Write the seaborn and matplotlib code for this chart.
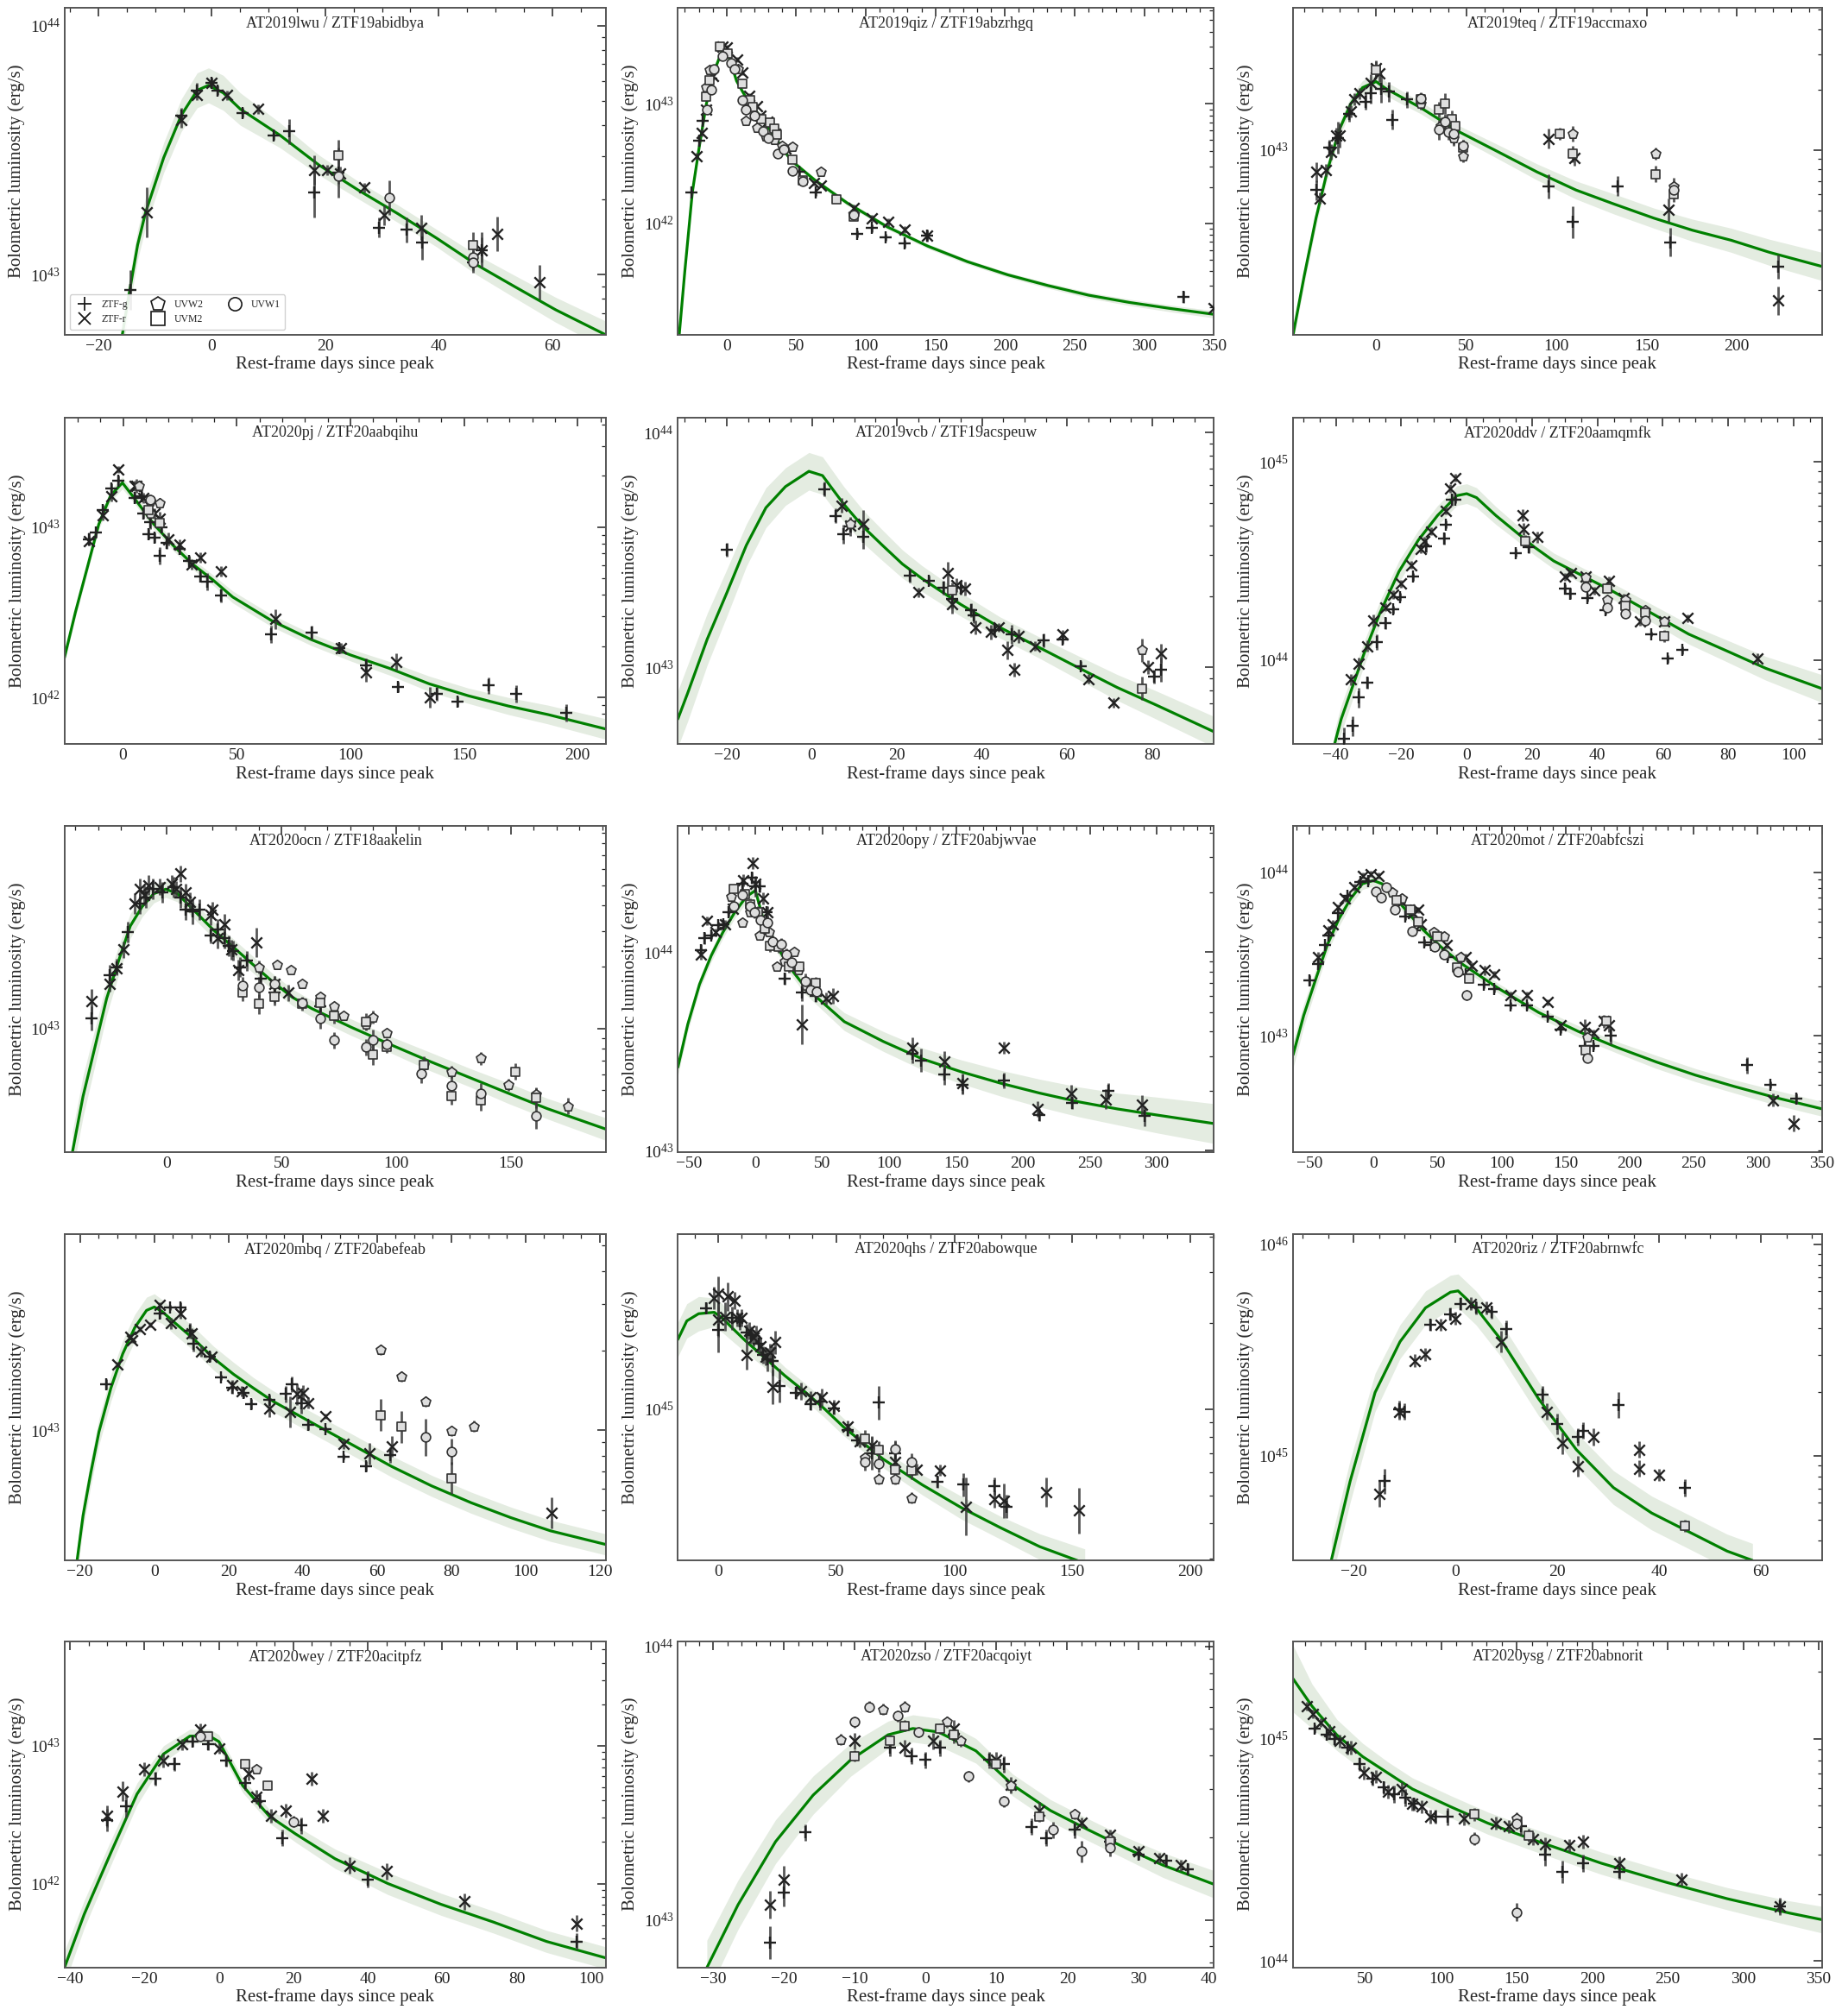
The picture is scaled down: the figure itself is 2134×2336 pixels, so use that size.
import numpy as np
import matplotlib
matplotlib.use("Agg")
import matplotlib.pyplot as plt
from matplotlib.ticker import MultipleLocator, AutoMinorLocator, LogLocator, NullFormatter, LogFormatterSciNotation
from matplotlib.lines import Line2D
import seaborn as sns

# ------------------------------------------------------------------ data
# model curves: (rest-frame days, log10 L) knots, band = half width in dex
# photometry: (days, log10 L, error in dex)

# --- AT2019lwu
lwu_title = "AT2019lwu / ZTF19abidbya"
lwu_mt = [-15.8, -14.4, -13.1, -11.7, -8.5, -5.4, -2.6, -0.6, 2, 5, 12, 18.9, 25.8, 32.8, 39.7, 46.7, 53.6, 60.6, 69.4]
lwu_ml = [42.76, 42.95, 43.12, 43.25, 43.47, 43.64, 43.74, 43.76, 43.73, 43.665, 43.56, 43.44, 43.34, 43.245, 43.146, 43.04, 42.95, 42.86, 42.76]
lwu_mb = [0.06, 0.06, 0.06, 0.06, 0.06, 0.065, 0.07, 0.07, 0.07, 0.065, 0.05, 0.04, 0.035, 0.035, 0.035, 0.04, 0.045, 0.05, 0.055]
lwu_g = [(-14.4, 42.94, 0.08), (-5.4, 43.64, 0.03), (-2.6, 43.74, 0.03), (0, 43.77, 0.02), (1, 43.74, 0.02),
         (5.4, 43.65, 0.02), (10.9, 43.56, 0.02), (13.6, 43.575, 0.05), (18, 43.33, 0.1), (22.3, 43.41, 0.1),
         (29.5, 43.19, 0.04), (34.3, 43.18, 0.05), (37, 43.13, 0.07), (46, 43.05, 0.04), (47.5, 43.10, 0.05)]
lwu_r = [(-11.5, 43.25, 0.1), (-5.4, 43.62, 0.03), (-2.6, 43.72, 0.02), (0, 43.77, 0.02), (2.7, 43.72, 0.02),
         (8.1, 43.665, 0.02), (18, 43.42, 0.06), (20.3, 43.42, 0.02), (22.6, 43.405, 0.03), (26.9, 43.35, 0.02),
         (30.3, 43.24, 0.04), (36.9, 43.19, 0.05), (47.5, 43.10, 0.07), (50.3, 43.165, 0.07), (57.8, 42.97, 0.07)]
lwu_w2 = []
lwu_m2 = [(22.3, 43.48, 0.06), (46, 43.12, 0.05)]
lwu_w1 = [(22.3, 43.395, 0.03), (31.3, 43.31, 0.07), (46, 43.07, 0.03), (46, 43.05, 0.03)]

# --- AT2019qiz
qiz_title = "AT2019qiz / ZTF19abzrhgq"
qiz_mt = [-34, -30, -24.6, -19.5, -14.5, -9, -3, 2, 7.2, 15, 29, 46, 63.6, 86.7, 115.6, 144.5, 173, 202, 231, 260, 289, 318, 350]
qiz_ml = [41.07, 41.6, 42.26, 42.65, 43.0, 43.27, 43.45, 43.38, 43.19, 43.03, 42.82, 42.53, 42.36, 42.17, 41.97, 41.81, 41.68, 41.57, 41.48, 41.40, 41.34, 41.29, 41.24]
qiz_mb = [0.02] * 18 + [0.022, 0.024, 0.026, 0.028, 0.03]
qiz_g = [(-25, 42.26, 0.03), (-20, 42.69, 0.03), (-17, 42.86, 0.03), (-11, 43.21, 0.03), (52, 42.43, 0.03), (64, 42.26, 0.03),
         (94, 41.91, 0.03), (104, 41.96, 0.03), (114, 41.885, 0.03), (128, 41.83, 0.03), (144, 41.90, 0.05), (328, 41.385, 0.05)]
qiz_r = [(-21.5, 42.56, 0.03), (-18, 42.76, 0.03), (-14.5, 42.95, 0.03), (-10, 43.23, 0.03), (-3, 43.48, 0.02), (0, 43.47, 0.02),
         (7.5, 43.37, 0.02), (11, 43.26, 0.02), (16, 43.07, 0.02), (22, 42.98, 0.02), (24.5, 42.9, 0.02), (29, 42.85, 0.02),
         (35, 42.75, 0.02), (42, 42.63, 0.02), (63, 42.34, 0.02), (68, 42.32, 0.02), (91, 42.13, 0.03), (104, 42.04, 0.03),
         (116, 42.01, 0.03), (128, 41.95, 0.03), (144, 41.9, 0.04), (350, 41.29, 0.04)]
qiz_w2 = [(-15, 43.14, 0.02), (-12, 43.28, 0.02), (8, 43.29, 0.02), (14, 42.86, 0.02), (22, 42.8, 0.02), (28, 42.73, 0.02),
          (34, 42.70, 0.02), (40, 42.65, 0.02), (47, 42.64, 0.02), (68, 42.43, 0.02), (91, 42.07, 0.02)]
qiz_m2 = [(-15, 43.06, 0.02), (-12, 43.20, 0.02), (-5, 43.48, 0.02), (1, 43.42, 0.02), (11, 43.17, 0.02), (17, 43.03, 0.02),
          (19, 42.97, 0.02), (25, 42.87, 0.02), (31, 42.84, 0.02), (34, 42.79, 0.02), (36, 42.74, 0.02), (47, 42.53, 0.02),
          (55, 42.36, 0.02), (79, 42.20, 0.02), (91, 42.06, 0.02)]
qiz_w1 = [(-14, 42.95, 0.02), (-11, 43.12, 0.02), (-9, 43.29, 0.02), (-3, 43.40, 0.02), (3, 43.34, 0.02), (6, 43.29, 0.02),
          (11, 43.03, 0.02), (14, 42.95, 0.02), (20, 42.90, 0.02), (26, 42.77, 0.02), (30, 42.71, 0.02), (37, 42.58, 0.02),
          (41, 42.62, 0.02), (47, 42.44, 0.02), (55, 42.35, 0.02), (91, 42.07, 0.02)]

# --- AT2019teq
teq_title = "AT2019teq / ZTF19accmaxo"
teq_mt = [-46, -39.8, -33.3, -26.9, -20.4, -14, -7.5, 0, 5.4, 24.7, 46, 67.7, 89.2, 110.8, 132, 154, 175.3, 196.8, 218, 247]
teq_ml = [42.08, 42.374, 42.66, 42.90, 43.10, 43.23, 43.31, 43.34, 43.305, 43.21, 43.09, 42.99, 42.89, 42.80, 42.73, 42.66, 42.60, 42.55, 42.49, 42.42]
teq_mb = [0.04, 0.04, 0.04, 0.04, 0.035, 0.035, 0.035, 0.035, 0.035, 0.03, 0.03, 0.035, 0.04, 0.045, 0.05, 0.05, 0.055, 0.06, 0.065, 0.07]
teq_g = [(-33, 42.80, 0.05), (-26, 43.01, 0.04), (-21, 43.06, 0.08), (-15, 43.18, 0.04), (-6, 43.24, 0.04), (-3, 43.28, 0.05),
         (3, 43.305, 0.07), (7, 43.29, 0.05), (9, 43.15, 0.05), (17, 43.25, 0.04), (95.5, 42.82, 0.06), (109, 42.64, 0.08),
         (134, 42.82, 0.05), (163, 42.54, 0.07), (223, 42.42, 0.06)]
teq_r = [(-33, 42.89, 0.05), (-31, 42.76, 0.03), (-28, 42.90, 0.03), (-25, 42.99, 0.04), (-22, 43.07, 0.04), (-20, 43.07, 0.06),
         (-14, 43.19, 0.03), (-12, 43.25, 0.03), (-9, 43.28, 0.03), (-3, 43.335, 0.04), (0, 43.405, 0.04), (2, 43.38, 0.04),
         (95.5, 43.055, 0.05), (110, 42.96, 0.04), (162, 42.70, 0.06), (223, 42.25, 0.07)]
teq_w2 = [(25, 43.23, 0.03), (36, 43.12, 0.04), (43, 43.06, 0.04), (48, 42.97, 0.03), (109, 43.08, 0.04), (155, 42.98, 0.03), (165, 42.82, 0.04)]
teq_m2 = [(0, 43.40, 0.04), (25, 43.25, 0.03), (35, 43.20, 0.04), (38, 43.23, 0.05), (42, 43.155, 0.04), (44, 43.12, 0.04),
          (48, 43.01, 0.04), (102, 43.08, 0.03), (109, 42.98, 0.04), (155, 42.88, 0.04), (165, 42.78, 0.04)]
teq_w1 = [(25, 43.255, 0.03), (35, 43.10, 0.05), (38, 43.14, 0.04), (40, 43.09, 0.04), (43, 43.08, 0.05), (48, 43.02, 0.03), (165, 42.80, 0.04)]

# --- AT2020pj
pj_title = "AT2020pj / ZTF20aabqihu"
pj_mt = [-25.8, -21, -16, -10.7, -5.5, -0.3, 4.9, 13.5, 22.2, 30.8, 39.5, 48.2, 65.5, 82.8, 100, 117.5, 134.8, 152, 169.6, 187, 212.5]
pj_ml = [42.235, 42.50, 42.75, 43.017, 43.185, 43.26, 43.17, 43.017, 42.89, 42.78, 42.69, 42.59, 42.45, 42.34, 42.25, 42.17, 42.08, 42.01, 41.95, 41.90, 41.815]
pj_mb = [0.03, 0.03, 0.03, 0.03, 0.035, 0.035, 0.03, 0.03, 0.03, 0.03, 0.03, 0.035, 0.035, 0.035, 0.035, 0.04, 0.045, 0.045, 0.05, 0.055, 0.06]
pj_g = [(-15, 42.93, 0.04), (-12, 42.97, 0.03), (-9, 43.10, 0.03), (-5, 43.225, 0.03), (-2, 43.27, 0.03), (5, 43.17, 0.03),
        (8, 43.18, 0.03), (9, 43.08, 0.03), (11, 42.96, 0.03), (12, 43.03, 0.04), (14, 42.94, 0.03), (16, 42.83, 0.05),
        (17, 43.0, 0.03), (19, 42.91, 0.04), (25, 42.87, 0.03), (29, 42.80, 0.03), (34, 42.71, 0.03), (37, 42.68, 0.05),
        (43, 42.60, 0.04), (65, 42.37, 0.05), (83, 42.38, 0.04), (95, 42.29, 0.03), (107, 42.19, 0.04), (121, 42.06, 0.03),
        (138, 42.02, 0.04), (147, 41.975, 0.03), (161, 42.07, 0.05), (173, 42.02, 0.05), (195, 41.91, 0.05)]
pj_r = [(-15, 42.92, 0.03), (-9, 43.07, 0.03), (-5, 43.18, 0.03), (-2, 43.34, 0.02), (5, 43.24, 0.03), (6, 43.24, 0.04),
        (9, 43.17, 0.03), (12, 43.12, 0.04), (14, 43.08, 0.03), (16, 43.05, 0.04), (20, 42.93, 0.04), (25, 42.90, 0.03),
        (30, 42.78, 0.03), (34, 42.82, 0.03), (43, 42.74, 0.03), (67, 42.46, 0.06), (96, 42.29, 0.03), (107, 42.15, 0.06),
        (120, 42.21, 0.05), (135, 42.0, 0.06)]
pj_w2 = [(7, 43.24, 0.03), (12, 43.15, 0.03), (16, 43.14, 0.03), (12, 43.08, 0.03)]
pj_m2 = [(11, 43.10, 0.03), (16, 43.025, 0.03)]
pj_w1 = [(12, 43.16, 0.03)]

# --- AT2019vcb
vcb_title = "AT2019vcb / ZTF19acspeuw"
vcb_mt = [-31.5, -29.2, -24.6, -20, -15.4, -10.8, -6.2, -0.7, 2.5, 7.5, 12.1, 16.7, 21.3, 25.9, 35, 44.2, 53.4, 62.5, 71.7, 80.9, 94.5]
vcb_ml = [42.78, 42.89, 43.12, 43.317, 43.52, 43.68, 43.77, 43.835, 43.817, 43.695, 43.598, 43.518, 43.44, 43.378, 43.268, 43.17, 43.085, 43.0, 42.915, 42.84, 42.726]
vcb_mb = [0.12, 0.12, 0.11, 0.1, 0.09, 0.085, 0.08, 0.08, 0.08, 0.075, 0.07, 0.065, 0.06, 0.055, 0.05, 0.045, 0.045, 0.05, 0.055, 0.06, 0.065]
vcb_g = [(-20, 43.50, 0.03), (3, 43.76, 0.03), (5.5, 43.646, 0.03), (7.3, 43.567, 0.04), (9, 43.60, 0.04), (12, 43.555, 0.05),
         (23, 43.39, 0.03), (27.5, 43.37, 0.02), (31, 43.34, 0.03), (33, 43.29, 0.04), (35, 43.34, 0.03), (37.5, 43.244, 0.03),
         (38, 43.22, 0.03), (43, 43.16, 0.03), (47, 43.14, 0.04), (54.5, 43.116, 0.03), (59, 43.12, 0.02), (63.2, 43.006, 0.02),
         (80.5, 42.96, 0.03), (82, 42.99, 0.05)]
vcb_r = [(7, 43.69, 0.03), (9, 43.604, 0.03), (12, 43.61, 0.06), (25, 43.32, 0.02), (32, 43.40, 0.05), (33, 43.27, 0.04),
         (34, 43.35, 0.03), (36, 43.335, 0.03), (38.5, 43.17, 0.03), (42, 43.15, 0.03), (44, 43.17, 0.02), (46, 43.073, 0.04),
         (47.5, 42.99, 0.03), (48.5, 43.134, 0.03), (52.5, 43.09, 0.02), (59, 43.14, 0.02), (65, 42.95, 0.02), (71, 42.85, 0.02),
         (79, 43.0, 0.03), (82, 43.06, 0.04)]
vcb_w2 = [(9, 43.61, 0.02), (77.5, 43.073, 0.05)]
vcb_m2 = [(33, 43.33, 0.03), (77.5, 42.91, 0.05)]
vcb_w1 = []

# --- AT2020ddv
ddv_title = "AT2020ddv / ZTF20aamqmfk"
ddv_mt = [-40.4, -38.4, -34.8, -31.3, -26.6, -20.7, -14.8, -8.9, -3, 0, 3, 8.9, 14.8, 20.7, 26.6, 32.5, 44.3, 56.1, 67.9, 79.7, 91.5, 108.6]
ddv_ml = [43.575, 43.70, 43.87, 44.036, 44.234, 44.447, 44.605, 44.73, 44.83, 44.84, 44.82, 44.73, 44.65, 44.57, 44.50, 44.45, 44.35, 44.24, 44.13, 44.044, 43.957, 43.855]
ddv_mb = [0.07, 0.07, 0.065, 0.06, 0.06, 0.055, 0.05, 0.05, 0.05, 0.05, 0.05, 0.045, 0.04, 0.04, 0.04, 0.04, 0.04, 0.045, 0.05, 0.055, 0.06, 0.07]
ddv_g = [(-37.5, 43.60, 0.06), (-35, 43.665, 0.05), (-33, 43.81, 0.05), (-30.3, 43.886, 0.03), (-27.5, 44.09, 0.04),
         (-25, 44.186, 0.03), (-22.5, 44.254, 0.02), (-20.5, 44.318, 0.02), (-16.5, 44.42, 0.02), (-12.5, 44.573, 0.03),
         (-7, 44.613, 0.03), (-6.5, 44.684, 0.02), (-4.5, 44.81, 0.03), (-3.5, 44.81, 0.02), (15, 44.54, 0.02),
         (19, 44.57, 0.03), (30, 44.36, 0.02), (31.5, 44.336, 0.03), (37, 44.313, 0.02), (42.5, 44.25, 0.02),
         (56.5, 44.13, 0.01), (66, 44.05, 0.02), (61.5, 44.005, 0.02)]
ddv_r = [(-35.5, 43.90, 0.03), (-33, 43.98, 0.03), (-30.5, 44.07, 0.03), (-28.5, 44.20, 0.03), (-25, 44.265, 0.02),
         (-22.5, 44.33, 0.02), (-20, 44.385, 0.02), (-17, 44.48, 0.02), (-14, 44.56, 0.02), (-13, 44.60, 0.02),
         (-11, 44.65, 0.02), (-6.5, 44.755, 0.02), (-5, 44.866, 0.02), (-3.5, 44.92, 0.02), (17, 44.73, 0.03),
         (17.5, 44.66, 0.03), (21.5, 44.62, 0.03), (30, 44.42, 0.02), (32, 44.44, 0.02), (36.5, 44.42, 0.02),
         (39, 44.35, 0.02), (43.5, 44.40, 0.02), (48, 44.313, 0.02), (53, 44.194, 0.02), (60.5, 44.194, 0.02),
         (67.5, 44.21, 0.02), (89, 44.005, 0.03)]
ddv_w2 = [(36.5, 44.415, 0.02), (43, 44.305, 0.02), (48.5, 44.305, 0.02), (54.5, 44.25, 0.02), (60.5, 44.194, 0.02)]
ddv_m2 = [(18, 44.60, 0.03), (43, 44.36, 0.02), (48.5, 44.275, 0.02), (54.5, 44.24, 0.02), (60.5, 44.12, 0.03)]
ddv_w1 = [(36.5, 44.37, 0.02), (43, 44.265, 0.02), (48.5, 44.234, 0.02), (54.5, 44.20, 0.02)]

# --- AT2020ocn
ocn_title = "AT2020ocn / ZTF18aakelin"
ocn_mt = [-41.2, -36.6, -31.4, -26.3, -21.1, -16, -10.8, -5.7, -0.5, 4.6, 11.5, 20.1, 28.7, 37.3, 46, 54.6, 63.2, 80.4, 97.4, 114.8, 132, 149, 166, 191.6]
ocn_ml = [42.40, 42.67, 42.91, 43.147, 43.33, 43.50, 43.595, 43.658, 43.68, 43.658, 43.58, 43.483, 43.40, 43.315, 43.23, 43.154, 43.098, 43.007, 42.923, 42.84, 42.762, 42.685, 42.61, 42.51]
ocn_mb = [0.1, 0.1, 0.09, 0.08, 0.07, 0.06, 0.05, 0.045, 0.04, 0.04, 0.04, 0.04, 0.04, 0.04, 0.04, 0.04, 0.04, 0.04, 0.04, 0.045, 0.045, 0.05, 0.05, 0.055]
ocn_g = [(-33, 43.05, 0.06), (-25, 43.26, 0.05), (-22, 43.30, 0.04), (-17, 43.47, 0.05), (-12, 43.61, 0.05), (-9, 43.64, 0.05),
         (-6, 43.68, 0.05), (-2, 43.665, 0.05), (3, 43.69, 0.05), (6, 43.64, 0.05), (8, 43.58, 0.05), (11, 43.57, 0.06),
         (14, 43.58, 0.05), (19, 43.455, 0.04), (22, 43.483, 0.05), (25, 43.44, 0.05), (27, 43.405, 0.05), (29, 43.38, 0.05),
         (32, 43.30, 0.05), (35, 43.33, 0.05), (41, 43.245, 0.06), (47, 43.175, 0.05), (67, 43.11, 0.06)]
ocn_r = [(-33, 43.133, 0.06), (-25, 43.22, 0.04), (-22, 43.294, 0.03), (-19, 43.385, 0.04), (-14, 43.61, 0.05),
         (-12, 43.68, 0.05), (-10, 43.65, 0.05), (-8, 43.70, 0.05), (-3, 43.69, 0.04), (2, 43.707, 0.04), (4, 43.68, 0.04),
         (6, 43.756, 0.04), (8, 43.665, 0.04), (10, 43.616, 0.05), (19, 43.553, 0.05), (20, 43.58, 0.04), (22, 43.44, 0.05),
         (25, 43.51, 0.05), (28, 43.385, 0.05), (31, 43.287, 0.05), (39, 43.42, 0.07), (47, 43.217, 0.04), (53, 43.175, 0.04)]
ocn_w2 = [(40, 43.30, 0.03), (48, 43.31, 0.02), (54, 43.287, 0.02), (59, 43.217, 0.02), (67, 43.154, 0.02), (73, 43.11, 0.02),
          (77, 43.063, 0.02), (87, 43.02, 0.03), (90, 43.056, 0.03), (96, 42.98, 0.02), (112, 42.825, 0.02), (124, 42.79, 0.03),
          (137, 42.855, 0.03), (149, 42.727, 0.03), (161, 42.678, 0.03), (175, 42.622, 0.04)]
ocn_m2 = [(33, 43.175, 0.04), (40, 43.12, 0.05), (47, 43.154, 0.04), (59, 43.12, 0.03), (67, 43.126, 0.04), (73, 43.063, 0.04),
          (87, 43.035, 0.04), (90, 42.874, 0.05), (96, 42.91, 0.03), (112, 42.825, 0.04), (124, 42.67, 0.04), (137, 42.65, 0.05),
          (152, 42.79, 0.04), (161, 42.664, 0.05)]
ocn_w1 = [(33, 43.21, 0.04), (40, 43.20, 0.05), (47, 43.217, 0.04), (59, 43.126, 0.03), (67, 43.05, 0.05), (73, 42.944, 0.04),
          (87, 42.91, 0.04), (90, 42.944, 0.05), (96, 42.923, 0.03), (111, 42.783, 0.05), (124, 42.72, 0.05), (137, 42.685, 0.05),
          (161, 42.573, 0.06)]

# --- AT2020opy
opy_title = "AT2020opy / ZTF20abjwvae"
opy_mt = [-58, -50.6, -41.8, -33, -24.3, -15.5, -6.7, 0, 5, 13.7, 25.4, 37.1, 51.8, 66.4, 95.6, 124.9, 154, 183.3, 212.6, 241.8, 271, 300, 342.7]
opy_ml = [43.42, 43.636, 43.838, 43.983, 44.10, 44.20, 44.28, 44.31, 44.185, 44.055, 43.925, 43.824, 43.737, 43.65, 43.55, 43.462, 43.397, 43.34, 43.29, 43.246, 43.21, 43.18, 43.137]
opy_mb = [0.04, 0.035, 0.03, 0.03, 0.03, 0.03, 0.03, 0.03, 0.03, 0.03, 0.03, 0.035, 0.04, 0.045, 0.05, 0.055, 0.06, 0.065, 0.07, 0.075, 0.08, 0.09, 0.1]
opy_g = [(-41, 44.01, 0.03), (-38, 44.07, 0.03), (-33, 44.084, 0.02), (-28, 44.134, 0.02), (-24, 44.14, 0.02), (-20, 44.20, 0.02),
         (-10, 44.345, 0.03), (-3, 44.375, 0.03), (0, 44.33, 0.05), (3, 44.33, 0.03), (8, 44.20, 0.03), (22, 43.867, 0.03),
         (35, 43.795, 0.04), (45, 43.78, 0.03), (117, 43.49, 0.05), (124, 43.455, 0.06), (141, 43.383, 0.05), (155, 43.333, 0.05),
         (186, 43.354, 0.04), (212, 43.18, 0.03), (237, 43.24, 0.03), (264, 43.30, 0.04), (291, 43.175, 0.05)]
opy_r = [(-41, 43.99, 0.03), (-36, 44.157, 0.02), (-30, 44.10, 0.02), (-23, 44.14, 0.02), (-17, 44.22, 0.02), (-9, 44.36, 0.03),
         (-2, 44.45, 0.03), (0, 44.345, 0.04), (6, 44.27, 0.03), (9, 44.20, 0.03), (35, 43.636, 0.1), (53, 43.766, 0.03),
         (58, 43.78, 0.04), (117, 43.52, 0.05), (141, 43.45, 0.05), (155, 43.34, 0.05), (186, 43.52, 0.03), (211, 43.21, 0.04),
         (236, 43.29, 0.04), (262, 43.26, 0.05), (289, 43.23, 0.05)]
opy_w2 = [(-18, 44.28, 0.02), (-10, 44.15, 0.02), (-4, 44.20, 0.02), (3, 44.084, 0.02), (10, 44.10, 0.02), (16, 43.925, 0.02),
          (22, 43.954, 0.02), (29, 44.0, 0.02), (32, 43.91, 0.02), (38, 43.83, 0.03)]
opy_m2 = [(-16, 44.32, 0.02), (-8, 44.29, 0.02), (-4, 44.24, 0.03), (2, 44.20, 0.03), (7, 44.12, 0.03), (11, 44.033, 0.03),
          (17, 44.026, 0.03), (25, 43.925, 0.03), (33, 43.925, 0.03), (45, 43.845, 0.03)]
opy_w1 = [(-16, 44.23, 0.02), (-10, 44.286, 0.02), (-4, 44.23, 0.03), (-1, 44.20, 0.03), (4, 44.163, 0.03), (9, 44.15, 0.03),
          (13, 44.055, 0.03), (19, 44.04, 0.03), (23, 43.99, 0.03), (27, 43.947, 0.03), (37, 43.853, 0.04), (41, 43.81, 0.03),
          (46, 43.80, 0.03)]

# --- AT2020mot
mot_title = "AT2020mot / ZTF20abfcszi"
mot_mt = [-62.7, -54.4, -45.3, -36.1, -27, -17.7, -8.6, 0, 6.7, 22, 37.3, 52.6, 68, 98.5, 129, 160, 190, 221, 251.4, 282, 312.8, 350]
mot_ml = [42.884, 43.125, 43.34, 43.554, 43.714, 43.84, 43.93, 43.95, 43.93, 43.80, 43.66, 43.545, 43.446, 43.286, 43.143, 43.027, 42.93, 42.84, 42.76, 42.69, 42.625, 42.554]
mot_mb = [0.08, 0.07, 0.06, 0.05, 0.045, 0.04, 0.035, 0.035, 0.035, 0.03, 0.03, 0.03, 0.03, 0.03, 0.03, 0.035, 0.035, 0.04, 0.04, 0.04, 0.045, 0.045]
mot_g = [(-50, 43.34, 0.03), (-43, 43.44, 0.02), (-38, 43.554, 0.02), (-35, 43.616, 0.02), (-28, 43.75, 0.02), (-20, 43.857, 0.02),
         (-10, 43.94, 0.02), (-4, 43.946, 0.02), (25, 43.73, 0.02), (32, 43.643, 0.02), (40, 43.57, 0.02), (45, 43.554, 0.02),
         (58, 43.482, 0.02), (72, 43.375, 0.02), (86, 43.313, 0.02), (94, 43.286, 0.02), (107, 43.187, 0.02), (120, 43.187, 0.02),
         (136, 43.116, 0.02), (146, 43.036, 0.02), (165, 42.938, 0.02), (172, 42.938, 0.02), (185, 43.0, 0.05), (292, 42.82, 0.05),
         (310, 42.70, 0.02), (330, 42.616, 0.03)]
mot_r = [(-43, 43.482, 0.03), (-35, 43.643, 0.03), (-32, 43.68, 0.03), (-28, 43.786, 0.02), (-22, 43.84, 0.02), (-15, 43.91, 0.02),
         (-8, 43.98, 0.02), (-2, 43.99, 0.02), (4, 43.98, 0.02), (22, 43.82, 0.02), (31, 43.75, 0.02), (35, 43.77, 0.02),
         (37, 43.68, 0.02), (57, 43.554, 0.02), (72, 43.482, 0.02), (77, 43.43, 0.02), (87, 43.40, 0.03), (94, 43.375, 0.02),
         (107, 43.25, 0.02), (120, 43.25, 0.02), (136, 43.205, 0.02), (146, 43.063, 0.02), (165, 43.054, 0.05), (172, 43.018, 0.02),
         (180, 43.09, 0.04), (184, 43.063, 0.04), (312, 42.607, 0.04), (328, 42.464, 0.05)]
mot_w2 = [(15, 43.875, 0.01), (22, 43.84, 0.01), (29, 43.77, 0.01), (47, 43.634, 0.01), (55, 43.607, 0.01), (68, 43.48, 0.01), (167, 42.99, 0.02)]
mot_m2 = [(18, 43.83, 0.01), (29, 43.77, 0.01), (35, 43.70, 0.01), (50, 43.607, 0.01), (65, 43.42, 0.02), (75, 43.35, 0.02), (166, 42.91, 0.03), (182, 43.09, 0.03)]
mot_w1 = [(2, 43.884, 0.01), (6, 43.848, 0.01), (10, 43.91, 0.01), (17, 43.77, 0.01), (30, 43.64, 0.01), (48, 43.545, 0.01),
          (55, 43.5, 0.01), (66, 43.393, 0.02), (73, 43.25, 0.03), (167, 42.866, 0.03)]

# --- AT2020mbq
mbq_title = "AT2020mbq / ZTF20abefeab"
mbq_mt = [-20.8, -19.2, -17.1, -14.9, -11.7, -8.5, -5.3, -2.1, 0, 2.1, 5.3, 10.7, 16, 21.3, 26.7, 32, 42.7, 53.4, 64, 74.7, 85.4, 96, 106.7, 121.7]
mbq_ml = [42.508, 42.677, 42.84, 42.995, 43.16, 43.29, 43.388, 43.454, 43.467, 43.45, 43.41, 43.345, 43.273, 43.213, 43.16, 43.11, 43.027, 42.945, 42.863, 42.79, 42.726, 42.67, 42.62, 42.568]
mbq_mb = [0.05] * 9 + [0.045] * 5 + [0.04] * 10
mbq_g = [(-13, 43.175, 0.02), (1.5, 43.443, 0.02), (4.3, 43.465, 0.01), (7, 43.465, 0.02), (9.5, 43.378, 0.03), (10.5, 43.328, 0.03),
         (15, 43.28, 0.02), (18, 43.20, 0.01), (21, 43.16, 0.02), (24, 43.142, 0.02), (26, 43.10, 0.02), (31, 43.115, 0.02),
         (35.5, 43.137, 0.03), (37, 43.175, 0.03), (39.5, 43.104, 0.04), (41.5, 43.022, 0.02), (46, 43.005, 0.01), (51, 42.90, 0.01),
         (57, 42.863, 0.02), (63.5, 42.907, 0.03)]
mbq_r = [(-10, 43.25, 0.01), (-6.5, 43.355, 0.01), (-6, 43.34, 0.01), (-4, 43.383, 0.01), (-1, 43.40, 0.01), (1.5, 43.475, 0.01),
         (4.5, 43.405, 0.02), (7, 43.443, 0.02), (10, 43.367, 0.02), (12.5, 43.30, 0.02), (15.5, 43.28, 0.01), (21, 43.17, 0.02),
         (23.5, 43.148, 0.02), (31, 43.082, 0.03), (36.5, 43.07, 0.06), (38.5, 43.137, 0.04), (40, 43.142, 0.03), (41.5, 43.104, 0.02),
         (46, 43.055, 0.01), (51, 42.95, 0.02), (58, 42.912, 0.04), (64, 42.94, 0.04), (107, 42.688, 0.06)]
mbq_w2 = [(61, 43.306, 0.02), (66.5, 43.205, 0.02), (73, 43.11, 0.02), (80, 42.997, 0.02), (86, 43.016, 0.02)]
mbq_m2 = [(61, 43.058, 0.06), (66.5, 43.014, 0.06), (80, 42.82, 0.06)]
mbq_w1 = [(73, 42.975, 0.07), (80, 42.92, 0.05)]

# --- AT2020qhs
qhs_title = "AT2020qhs / ZTF20abowque"
qhs_mt = [-17.1, -13.3, -8.3, -1.7, 1.7, 6.6, 11.6, 19.9, 28.2, 36.5, 44.9, 53.2, 69.8, 86.4, 103, 119.6, 136.2, 155.3]
qhs_ml = [45.243, 45.308, 45.333, 45.338, 45.318, 45.278, 45.238, 45.178, 45.117, 45.062, 45.002, 44.937, 44.826, 44.736, 44.656, 44.586, 44.52, 44.462]
qhs_mb = [0.06, 0.06, 0.06, 0.05, 0.05, 0.045, 0.04, 0.035, 0.03, 0.03, 0.03, 0.03, 0.03, 0.035, 0.04, 0.04, 0.045, 0.05]
qhs_g = [(-5, 45.353, 0.02), (0, 45.278, 0.08), (6, 45.318, 0.04), (9, 45.308, 0.03), (12, 45.268, 0.03), (14, 45.258, 0.03),
         (17, 45.228, 0.03), (19, 45.188, 0.03), (21, 45.173, 0.04), (23, 45.168, 0.05), (26, 45.082, 0.06), (33, 45.057, 0.02),
         (39, 45.017, 0.02), (43, 45.027, 0.03), (49, 45.002, 0.02), (55, 44.927, 0.02), (59, 44.892, 0.02), (65, 44.847, 0.06),
         (68, 45.022, 0.06), (75, 44.847, 0.04), (93, 44.746, 0.02), (104, 44.736, 0.04), (117, 44.731, 0.03), (122, 44.66, 0.04)]
qhs_r = [(-2, 45.388, 0.04), (0, 45.403, 0.06), (0, 45.313, 0.06), (3, 45.323, 0.05), (4, 45.393, 0.05), (7, 45.378, 0.03),
         (8, 45.318, 0.03), (10, 45.318, 0.03), (12, 45.188, 0.05), (13, 45.273, 0.03), (15, 45.248, 0.03), (16, 45.263, 0.03),
         (18, 45.218, 0.03), (20, 45.183, 0.03), (22, 45.198, 0.03), (24, 45.233, 0.04), (23, 45.077, 0.06), (35, 45.062, 0.03),
         (39, 45.042, 0.02), (44, 45.042, 0.03), (49, 45.012, 0.02), (55, 44.94, 0.02), (60, 44.887, 0.02), (65, 44.872, 0.03),
         (75, 44.816, 0.04), (84, 44.79, 0.02), (94, 44.786, 0.02), (105, 44.66, 0.1), (117, 44.686, 0.03), (121, 44.68, 0.06),
         (139, 44.71, 0.05), (153, 44.646, 0.08)]
qhs_w2 = [(62, 44.83, 0.02), (68, 44.756, 0.02), (75, 44.756, 0.02), (82, 44.69, 0.02)]
qhs_m2 = [(62, 44.897, 0.03), (68, 44.857, 0.03), (75, 44.79, 0.03), (82, 44.786, 0.03)]
qhs_w1 = [(62, 44.816, 0.03), (68, 44.81, 0.03), (75, 44.86, 0.03), (82, 44.816, 0.03)]

# --- AT2020riz
riz_title = "AT2020riz / ZTF20abrnwfc"
riz_mt = [-24.4, -20.7, -15.8, -10.9, -5.9, -1, 0.5, 4, 8.9, 16.3, 23.7, 31, 38.5, 45.9, 53.3, 58.3]
riz_ml = [44.506, 44.88, 45.30, 45.54, 45.70, 45.774, 45.78, 45.70, 45.55, 45.27, 45.03, 44.85, 44.73, 44.64, 44.55, 44.506]
riz_mb = [0.1, 0.1, 0.09, 0.08, 0.08, 0.08, 0.08, 0.08, 0.08, 0.08, 0.08, 0.08, 0.08, 0.08, 0.08, 0.08]
riz_g = [(-14, 44.88, 0.06), (-11, 45.22, 0.04), (-10, 45.21, 0.04), (-5, 45.62, 0.03), (-1, 45.67, 0.03), (1, 45.72, 0.03),
         (4, 45.70, 0.03), (7, 45.68, 0.03), (10, 45.60, 0.04), (17, 45.29, 0.04), (20, 45.15, 0.05), (24, 45.09, 0.04),
         (25, 45.12, 0.04), (32, 45.24, 0.06), (45, 44.85, 0.04)]
riz_r = [(-15, 44.82, 0.06), (-11, 45.21, 0.04), (-8, 45.45, 0.03), (-6, 45.48, 0.03), (-3, 45.62, 0.03), (0, 45.65, 0.03),
         (3, 45.72, 0.03), (6, 45.70, 0.03), (9, 45.54, 0.05), (18, 45.21, 0.04), (21, 45.06, 0.05), (24, 44.95, 0.05),
         (27, 45.09, 0.04), (36, 45.03, 0.04), (36, 44.94, 0.04), (40, 44.91, 0.03)]
riz_w2 = []
riz_m2 = [(45, 44.67, 0.03)]
riz_w1 = []

# --- AT2020wey
wey_title = "AT2020wey / ZTF20acitpfz"
wey_mt = [-41.5, -36.2, -29.1, -22, -14.9, -7.8, -2.5, 0, 6.4, 13.5, 20.6, 31.2, 45.4, 59.6, 73.8, 88, 104]
wey_ml = [41.39, 41.777, 42.22, 42.65, 42.94, 43.07, 43.07, 43.03, 42.71, 42.49, 42.36, 42.18, 42.0, 41.85, 41.72, 41.58, 41.46]
wey_mb = [0.12, 0.1, 0.09, 0.08, 0.06, 0.05, 0.05, 0.05, 0.05, 0.05, 0.06, 0.07, 0.08, 0.08, 0.08, 0.08, 0.08]
wey_g = [(-30, 42.46, 0.08), (-25, 42.56, 0.08), (-17, 42.76, 0.05), (-12, 42.87, 0.05), (-7, 43.03, 0.04), (-3, 43.01, 0.04),
         (2, 42.89, 0.04), (7, 42.73, 0.05), (11, 42.60, 0.05), (17, 42.33, 0.06), (22, 42.42, 0.06), (40, 42.03, 0.06), (96, 41.58, 0.06)]
wey_r = [(-30, 42.49, 0.08), (-26, 42.67, 0.07), (-20, 42.83, 0.05), (-15, 42.89, 0.05), (-10, 43.01, 0.04), (-5, 43.12, 0.04),
         (0, 42.98, 0.04), (8, 42.80, 0.05), (10, 42.63, 0.05), (14, 42.49, 0.05), (18, 42.53, 0.05), (25, 42.76, 0.05),
         (28, 42.49, 0.05), (35, 42.13, 0.06), (45, 42.09, 0.06), (66, 41.87, 0.06), (96, 41.71, 0.06)]
wey_w2 = [(10, 42.83, 0.03)]
wey_m2 = [(-3, 43.07, 0.03), (7, 42.87, 0.03), (13, 42.71, 0.03)]
wey_w1 = [(-5, 43.07, 0.03), (20, 42.45, 0.04)]

# --- AT2020zso
zso_title = "AT2020zso / ZTF20acqoiyt"
zso_mt = [-30.9, -26.5, -21.2, -15.9, -10.6, -5.3, -1.8, 1.8, 7.1, 12.3, 17.6, 22.9, 28.2, 33.5, 40.7]
zso_ml = [42.825, 43.055, 43.286, 43.456, 43.585, 43.677, 43.70, 43.687, 43.618, 43.493, 43.40, 43.33, 43.263, 43.20, 43.13]
zso_mb = [0.1, 0.09, 0.08, 0.07, 0.06, 0.05, 0.05, 0.05, 0.045, 0.04, 0.04, 0.04, 0.04, 0.045, 0.05]
zso_g = [(-22, 42.917, 0.06), (-20, 43.10, 0.05), (-17, 43.32, 0.03), (-5, 43.63, 0.03), (-2, 43.60, 0.03), (0, 43.585, 0.03),
         (2, 43.63, 0.03), (4, 43.677, 0.03), (9, 43.585, 0.03), (11, 43.57, 0.03), (15, 43.34, 0.03), (17, 43.30, 0.03),
         (21, 43.33, 0.03), (26, 43.286, 0.03), (30, 43.24, 0.02), (34, 43.217, 0.02), (37, 43.186, 0.02)]
zso_r = [(-22, 43.055, 0.05), (-20, 43.147, 0.05), (-10, 43.654, 0.03), (-3, 43.63, 0.03), (1, 43.654, 0.03), (4, 43.70, 0.03),
         (10, 43.585, 0.03), (12, 43.493, 0.03), (16, 43.40, 0.03), (22, 43.355, 0.02), (26, 43.31, 0.02), (30, 43.25, 0.02),
         (33, 43.226, 0.02), (36, 43.20, 0.02)]
zso_w2 = [(-12, 43.66, 0.02), (-6, 43.77, 0.02), (-3, 43.78, 0.02), (3, 43.724, 0.02), (5, 43.654, 0.02), (12, 43.49, 0.02),
          (21, 43.387, 0.02), (26, 43.295, 0.02)]
zso_m2 = [(-10, 43.60, 0.02), (-5, 43.654, 0.02), (-3, 43.71, 0.02), (2, 43.70, 0.02), (4, 43.677, 0.02), (10, 43.57, 0.02),
          (16, 43.378, 0.02), (26, 43.286, 0.02)]
zso_w1 = [(-10, 43.724, 0.02), (-8, 43.78, 0.02), (-4, 43.746, 0.02), (-1, 43.687, 0.02), (6, 43.525, 0.02), (11, 43.433, 0.02),
          (18, 43.33, 0.03), (22, 43.25, 0.04), (26, 43.263, 0.03)]

# --- AT2020ysg
ysg_title = "AT2020ysg / ZTF20abnorit"
ysg_mt = [2, 14.5, 31, 48, 64.5, 81, 106, 131, 164.5, 206, 248, 289.5, 331, 352]
ysg_ml = [45.27, 45.147, 45.017, 44.92, 44.847, 44.774, 44.695, 44.62, 44.537, 44.44, 44.356, 44.28, 44.215, 44.186]
ysg_mb = [0.15, 0.1, 0.07, 0.06, 0.05, 0.05, 0.05, 0.05, 0.05, 0.05, 0.05, 0.05, 0.055, 0.06]
ysg_g = [(16, 45.045, 0.02), (24, 45.017, 0.02), (29.5, 45.0, 0.03), (38, 44.96, 0.03), (46, 44.887, 0.03), (54.5, 44.82, 0.03),
         (62, 44.78, 0.03), (69, 44.75, 0.04), (76, 44.735, 0.04), (82, 44.706, 0.03), (96, 44.65, 0.03), (104, 44.65, 0.04),
         (153, 44.605, 0.04), (169, 44.48, 0.05), (180, 44.40, 0.05), (194, 44.44, 0.04), (218, 44.40, 0.03), (324, 44.245, 0.04)]
ysg_r = [(11, 45.147, 0.02), (15, 45.113, 0.02), (20, 45.073, 0.02), (26, 45.034, 0.03), (33, 44.99, 0.03), (40, 44.96, 0.03),
         (49, 44.847, 0.03), (57, 44.83, 0.03), (65, 44.763, 0.03), (74, 44.774, 0.03), (81, 44.706, 0.03), (87, 44.695, 0.03),
         (93, 44.65, 0.03), (115, 44.64, 0.03), (136, 44.62, 0.03), (145, 44.605, 0.03), (161, 44.55, 0.03), (169, 44.526, 0.03),
         (185, 44.52, 0.03), (194, 44.537, 0.03), (218, 44.44, 0.03), (259, 44.367, 0.03), (324, 44.245, 0.03)]
ysg_w2 = [(150, 44.64, 0.03)]
ysg_m2 = [(122, 44.66, 0.03), (158, 44.565, 0.03)]
ysg_w1 = [(122, 44.55, 0.03), (150, 44.62, 0.03), (150, 44.22, 0.04)]

# ------------------------------------------------------------------ layout / style
panels = [
    (lwu_title, lwu_mt, lwu_ml, lwu_mb, lwu_g, lwu_r, lwu_w2, lwu_m2, lwu_w1),
    (qiz_title, qiz_mt, qiz_ml, qiz_mb, qiz_g, qiz_r, qiz_w2, qiz_m2, qiz_w1),
    (teq_title, teq_mt, teq_ml, teq_mb, teq_g, teq_r, teq_w2, teq_m2, teq_w1),
    (pj_title, pj_mt, pj_ml, pj_mb, pj_g, pj_r, pj_w2, pj_m2, pj_w1),
    (vcb_title, vcb_mt, vcb_ml, vcb_mb, vcb_g, vcb_r, vcb_w2, vcb_m2, vcb_w1),
    (ddv_title, ddv_mt, ddv_ml, ddv_mb, ddv_g, ddv_r, ddv_w2, ddv_m2, ddv_w1),
    (ocn_title, ocn_mt, ocn_ml, ocn_mb, ocn_g, ocn_r, ocn_w2, ocn_m2, ocn_w1),
    (opy_title, opy_mt, opy_ml, opy_mb, opy_g, opy_r, opy_w2, opy_m2, opy_w1),
    (mot_title, mot_mt, mot_ml, mot_mb, mot_g, mot_r, mot_w2, mot_m2, mot_w1),
    (mbq_title, mbq_mt, mbq_ml, mbq_mb, mbq_g, mbq_r, mbq_w2, mbq_m2, mbq_w1),
    (qhs_title, qhs_mt, qhs_ml, qhs_mb, qhs_g, qhs_r, qhs_w2, qhs_m2, qhs_w1),
    (riz_title, riz_mt, riz_ml, riz_mb, riz_g, riz_r, riz_w2, riz_m2, riz_w1),
    (wey_title, wey_mt, wey_ml, wey_mb, wey_g, wey_r, wey_w2, wey_m2, wey_w1),
    (zso_title, zso_mt, zso_ml, zso_mb, zso_g, zso_r, zso_w2, zso_m2, zso_w1),
    (ysg_title, ysg_mt, ysg_ml, ysg_mb, ysg_g, ysg_r, ysg_w2, ysg_m2, ysg_w1),
]
# axis limits: (xmin, xmax, log ymin, log ymax, x major step)
limits = [
    (-26, 69.5, 42.76, 44.07, 20), (-35, 350, 41.07, 43.80, 50), (-46, 247, 42.08, 43.706, 50),
    (-25.8, 212.5, 41.728, 43.644, 50), (-31.5, 94.5, 42.674, 44.065, 20), (-53.1, 108.6, 43.575, 45.226, 20),
    (-44.7, 191.6, 42.398, 43.99, 50), (-58, 342.7, 42.993, 44.637, 50), (-62.7, 350, 42.289, 44.286, 50),
    (-24.2, 121.7, 42.508, 43.744, 20), (-17.1, 210, 44.472, 45.612, 50), (-31.9, 71.9, 44.506, 46.05, 20),
    (-41.5, 104, 41.39, 43.76, 20), (-35, 40.7, 42.825, 44.02, 10), (2, 352, 43.97, 45.44, 50),
]

sns.set_theme(style="white")
plt.rcParams["font.family"] = ["Liberation Serif", "DejaVu Serif"]
plt.rcParams["mathtext.fontset"] = "stix"

fig = plt.figure(figsize=(21.34, 23.36), dpi=100)
col_left = [0.035, 0.368, 0.702]
col_width = [0.294, 0.291, 0.287]
row_bottom = [0.834, 0.631, 0.4285, 0.226, 0.024]
row_height = 0.162

GREEN = "#008000"
BAND = "#e4ece1"
ECOL = "#3a3a3a"
UVFACE = "#dedede"


def unpack(pts):
    if len(pts) == 0:
        return np.array([]), np.array([]), np.array([])
    a = np.array(pts, dtype=float)
    return a[:, 0], a[:, 1], a[:, 2]


for i, (title, mt, ml, mb, g, r, w2, m2, w1) in enumerate(panels):
    row, col = divmod(i, 3)
    ax = fig.add_axes([col_left[col], row_bottom[row], col_width[col], row_height])
    x0, x1, y0, y1, step = limits[i]

    mt_a = np.array(mt)
    ml_a = np.array(ml)
    mb_a = np.array(mb)
    ax.fill_between(mt_a, 10 ** (ml_a - mb_a), 10 ** (ml_a + mb_a), color=BAND, lw=0, zorder=1)
    sns.lineplot(x=mt_a, y=10 ** ml_a, color=GREEN, lw=2.3, ax=ax, sort=False, estimator=None, zorder=2)

    series = [(g, "+", "k", 110, 1.7), (r, "x", "k", 80, 1.7),
              (w2, "p", UVFACE, 70, 1.2), (m2, "s", UVFACE, 60, 1.2), (w1, "o", UVFACE, 60, 1.2)]
    for pts, mk, fc, size, lw in series:
        t, lg, e = unpack(pts)
        if len(t) == 0:
            continue
        L = 10 ** lg
        ax.errorbar(t, L, yerr=[L - 10 ** (lg - e), 10 ** (lg + e) - L], fmt="none",
                    ecolor=ECOL, elinewidth=2.0, alpha=0.85, zorder=3)
        if mk in ("+", "x"):
            sns.scatterplot(x=t, y=L, marker=mk, s=size, color="#222222", linewidth=lw, ax=ax, zorder=4)
        else:
            sns.scatterplot(x=t, y=L, marker=mk, s=size, color=fc, edgecolor="#333333", linewidth=lw, ax=ax, zorder=4)

    ax.set_yscale("log")
    ax.set_xlim(x0, x1)
    ax.set_ylim(10 ** y0, 10 ** y1)
    ax.xaxis.set_major_locator(MultipleLocator(step))
    ax.xaxis.set_minor_locator(AutoMinorLocator())
    ax.yaxis.set_major_locator(LogLocator(base=10, numticks=10))
    ax.yaxis.set_major_formatter(LogFormatterSciNotation())
    ax.yaxis.set_minor_locator(LogLocator(base=10, subs=np.arange(2, 10), numticks=20))
    ax.yaxis.set_minor_formatter(NullFormatter())
    ax.tick_params(which="both", direction="in", top=True, right=True, labelsize=14, colors="#222222")
    ax.tick_params(which="major", length=7, width=1.1)
    ax.tick_params(which="minor", length=3.5, width=0.9)
    for sp in ax.spines.values():
        sp.set_color("#555555")
        sp.set_linewidth(1.4)
    ax.set_xlabel("Rest-frame days since peak", fontsize=15, labelpad=2)
    ax.set_ylabel("Bolometric luminosity (erg/s)", fontsize=15, labelpad=4)
    ax.text(0.5, 0.975, title, transform=ax.transAxes, ha="center", va="top", fontsize=13)

    if i == 0:
        handles = [Line2D([], [], ls="none", marker="+", ms=12, mew=1.3, color="k", label="ZTF-g"),
                   Line2D([], [], ls="none", marker="x", ms=10, mew=1.3, color="k", label="ZTF-r"),
                   Line2D([], [], ls="none", marker="p", ms=12, mew=1.2, mfc="white", mec="k", label="UVW2"),
                   Line2D([], [], ls="none", marker="s", ms=11, mew=1.2, mfc="white", mec="k", label="UVM2"),
                   Line2D([], [], ls="none", marker="o", ms=11, mew=1.2, mfc="white", mec="k", label="UVW1")]
        ax.legend(handles=handles, loc="lower left", ncol=3, fontsize=8.5, frameon=True, handletextpad=0.6,
                  columnspacing=2.0, borderpad=0.5, labelspacing=0.4, framealpha=0.9, edgecolor="#cccccc")

fig.savefig("out.png", dpi=100)
